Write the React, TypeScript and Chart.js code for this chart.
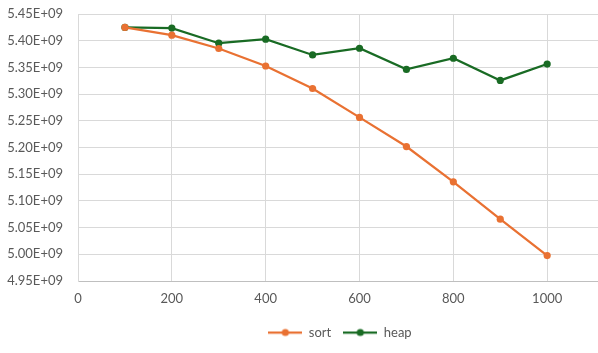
import React, { useEffect, useRef } from "react";
import { Chart, registerables } from "chart.js";

Chart.register(...registerables);

const xValues = [100, 200, 300, 400, 500, 600, 700, 800, 900, 1000];
const sortValues = [5.4249e9, 5.4104e9, 5.3854e9, 5.3526e9, 5.3105e9, 5.2564e9, 5.2018e9, 5.1358e9, 5.0657e9, 4.9977e9];
const heapValues = [5.4249e9, 5.4236e9, 5.3953e9, 5.4029e9, 5.3733e9, 5.3859e9, 5.3463e9, 5.3671e9, 5.3256e9, 5.3563e9];
const seriesNames = ["sort", "heap"];
const seriesColors = ["#E97132", "#196B24"];

const FONT = "Lato, 'Liberation Sans', sans-serif";

function legendImage(color: string): HTMLCanvasElement {
  const c = document.createElement("canvas");
  c.width = 34;
  c.height = 10;
  const g = c.getContext("2d")!;
  g.strokeStyle = color;
  g.lineWidth = 2.25;
  g.beginPath();
  g.moveTo(0, 5);
  g.lineTo(34, 5);
  g.stroke();
  g.fillStyle = color;
  g.beginPath();
  g.arc(17, 5, 3.6, 0, Math.PI * 2);
  g.fill();
  return c;
}

export default function App() {
  const ref = useRef<HTMLCanvasElement | null>(null);

  useEffect(() => {
    if (!ref.current) return;
    const imgs = seriesColors.map(legendImage);
    const mk = (vals: number[]) => vals.map((y, i) => ({ x: xValues[i], y }));
    const chart = new Chart(ref.current, {
      type: "scatter",
      data: {
        datasets: [sortValues, heapValues].map((vals, i) => ({
          label: seriesNames[i],
          data: mk(vals),
          showLine: true,
          borderColor: seriesColors[i],
          backgroundColor: seriesColors[i],
          borderWidth: 2.25,
          pointRadius: 3.6,
          pointHoverRadius: 3.6,
          pointBorderWidth: 0,
          pointStyle: "circle",
        })),
      },
      options: {
        responsive: false,
        animation: false,
        layout: { padding: { top: 14, left: 0, right: 0, bottom: 4 } },
        plugins: {
          tooltip: { enabled: false },
          legend: {
            position: "bottom",
            labels: {
              usePointStyle: true,
              pointStyleWidth: 34,
              boxHeight: 13,
              padding: 12,
              color: "#595959",
              font: { family: FONT, size: 13 },
              generateLabels: () =>
                seriesNames.map((n, i) => ({
                  text: n,
                  fillStyle: seriesColors[i],
                  strokeStyle: seriesColors[i],
                  fontColor: "#595959",
                  pointStyle: imgs[i],
                  lineWidth: 0,
                  hidden: false,
                  datasetIndex: i,
                })),
            },
          },
        },
        scales: {
          x: {
            type: "linear",
            min: 0,
            max: 1200,
            afterFit: (s: any) => {
              s.height = 33;
            },
            ticks: {
              stepSize: 200,
              padding: 10,
              color: "#595959",
              font: { family: FONT, size: 13 },
              maxRotation: 0,
              callback: (v: any) => String(Math.round(Number(v))),
            },
            grid: { color: "#D9D9D9", lineWidth: 1, drawTicks: false },
            border: { color: "#BFBFBF", width: 1 },
          },
          y: {
            min: 4.95e9,
            max: 5.45e9,
            afterFit: (s: any) => {
              s.width = 78;
              s.paddingTop = 8;
              s.paddingBottom = 8;
            },
            ticks: {
              stepSize: 0.05e9,
              padding: 15,
              color: "#595959",
              font: { family: FONT, size: 13 },
              callback: (v: any) => (Math.round(Number(v) / 1e7) / 100).toFixed(2) + "E+09",
            },
            grid: { color: "#D9D9D9", lineWidth: 1, drawTicks: false },
            border: { color: "#D9D9D9", width: 1 },
          },
          yr: {
            type: "linear",
            position: "right",
            display: true,
            afterFit: (s: any) => {
              s.width = 39;
              s.paddingTop = 0;
              s.paddingBottom = 0;
            },
            ticks: { display: false },
            grid: { display: false, drawTicks: false },
            border: { display: false },
          },
        },
      },
    });
    return () => chart.destroy();
  }, []);

  return (
    <div
      style={{
        position: "fixed",
        left: 0,
        top: 0,
        width: 598,
        height: 353,
        overflow: "hidden",
        background: "#FFFFFF",
      }}
    >
      <canvas ref={ref} width={680} height={353} style={{ display: "block", width: 680, height: 353 }} />
    </div>
  );
}
